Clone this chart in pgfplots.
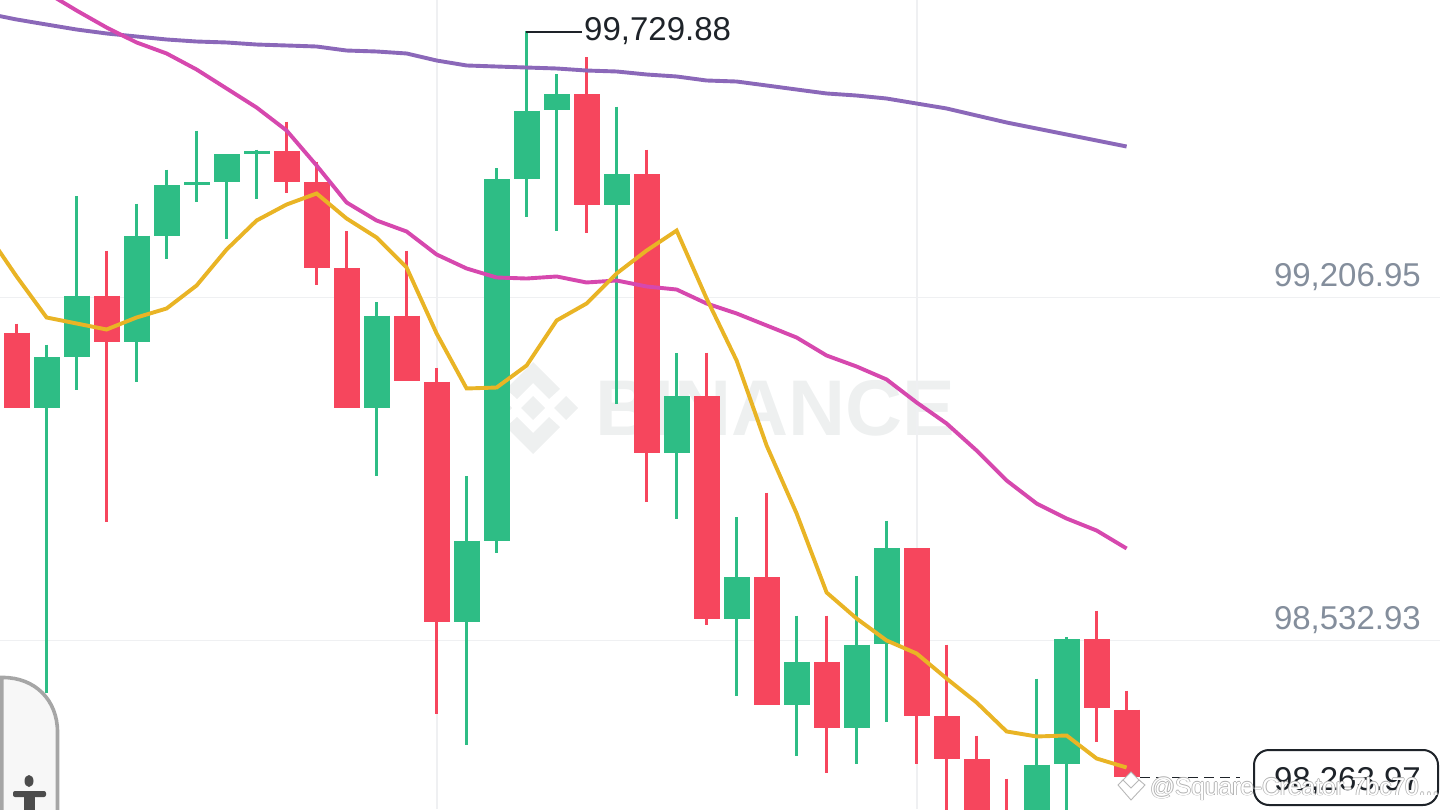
\documentclass[border=0pt]{standalone}
\usepackage{fontspec}
\setmainfont{Liberation Sans}
\usepackage{pgfplots}
\pgfplotsset{compat=1.18}
\definecolor{upg}{HTML}{2EBD85}
\definecolor{dnr}{HTML}{F6465D}
\definecolor{ma7}{HTML}{E9B425}
\definecolor{ma25}{HTML}{D648AE}
\definecolor{ma99}{HTML}{8B68B9}
\definecolor{gridc}{HTML}{EFF0F2}
\definecolor{lab}{HTML}{848E9C}
\definecolor{ink}{HTML}{1E2329}
\definecolor{wm}{HTML}{EEF0F0}
\begin{document}
\begin{tikzpicture}
\path[use as bounding box] (0,0) rectangle (1440pt,809pt);
\clip (0,0) rectangle (1440pt,809pt);
% exchange watermark behind the chart
\begin{scope}[x=1pt,y=-1pt,yshift=809pt]
\fill[wm] (533,362) -- (560,389) -- (549,399) -- (533,383) -- (517,399) -- (506,389) -- cycle;
\fill[wm] (533,454) -- (560,427) -- (549,417) -- (533,433) -- (517,417) -- (506,427) -- cycle;
\fill[wm] (533,396) -- (545,408) -- (533,420) -- (521,408) -- cycle;
\fill[wm] (566,396) -- (578,408) -- (566,420) -- (554,408) -- cycle;
\fill[wm] (500,396) -- (512,408) -- (500,420) -- (488,408) -- cycle;
\node[anchor=center,text=wm,inner sep=0pt] at (775,408)
  {\fontsize{79}{82}\selectfont\bfseries BINANCE};
\end{scope}
\begin{axis}[
  at={(0,0)},anchor=south west,
  scale only axis,width=1440pt,height=809pt,
  xmin=-0.6,xmax=1439.4,ymin=98201.9,ymax=99791.6,
  axis line style={draw=none},
  tick style={draw=none},
  xtick={436.1,916.1},ytick={99206.95,98532.93},
  xticklabels={},yticklabels={},
  grid=major,grid style={gridc,line width=1.6pt},
  unbounded coords=jump,
]
% green wicks
\addplot[upg,line width=3.5pt,forget plot] coordinates {
(46,99114.6)(46,98430.8)(46,nan)(76,99405.5)(76,99026.2)(76,nan)
(136,99391.7)(136,99040.0)(136,nan)(166,99458.5)(166,99283.6)(166,nan)
(196,99535.1)(196,99393.7)(196,nan)(226,99488.0)(226,99322.9)(226,nan)
(256,99497.8)(256,99399.6)(256,nan)(376,99197.2)(376,98855.3)(376,nan)
(466,98855.3)(466,98326.7)(466,nan)(496,99460.5)(496,98705.9)(496,nan)
(526,99729.88)(526,99364.2)(526,nan)(556,99645.2)(556,99338.6)(556,nan)
(616,99582.3)(616,98998.7)(616,nan)(676,99097.0)(676,98772.7)(676,nan)
(736,98774.7)(736,98424.9)(736,nan)(796,98582.1)(796,98305.1)(796,nan)
(856,98658.8)(856,98291.3)(856,nan)(886,98768.8)(886,98371.9)(886,nan)
(1036,98458.3)(1036,98081.0)(1036,nan)(1066,98538.9)(1066,98140.0)
};
% green bodies
\addplot[upg,line width=26pt,forget plot] coordinates {
(46,99089.1)(46,98990.8)(46,nan)(76,99210.9)(76,99089.1)(76,nan)
(136,99328.8)(136,99118.6)(136,nan)(166,99427.1)(166,99328.8)(166,nan)
(196,99433.0)(196,99427.1)(196,nan)(226,99488.0)(226,99433.0)(226,nan)
(256,99495.8)(256,99488.0)(256,nan)(376,99171.6)(376,98988.9)(376,nan)
(466,98729.5)(466,98570.3)(466,nan)(496,99438.9)(496,98729.5)(496,nan)
(526,99574.4)(526,99438.9)(526,nan)(556,99605.9)(556,99576.4)(556,nan)
(616,99448.7)(616,99387.8)(616,nan)(676,99012.5)(676,98900.5)(676,nan)
(736,98656.8)(736,98574.3)(736,nan)(796,98491.7)(796,98405.3)(796,nan)
(856,98525.1)(856,98362.0)(856,nan)(886,98713.8)(886,98527.1)(886,nan)
(1036,98289.3)(1036,98120.3)(1036,nan)(1066,98535.0)(1066,98291.3)
};
% red wicks
\addplot[dnr,line width=3.5pt,forget plot] coordinates {
(16,99155.9)(16,98990.8)(16,nan)(106,99299.3)(106,98766.8)(106,nan)
(286,99552.8)(286,99411.4)(286,nan)(316,99474.2)(316,99230.6)(316,nan)
(346,99336.7)(346,98988.9)(346,nan)(406,99299.3)(406,99043.9)(406,nan)
(436,99069.4)(436,98387.6)(436,nan)(586,99678.6)(586,99332.8)(586,nan)
(646,99497.8)(646,98806.1)(646,nan)(706,99098.9)(706,98562.5)(706,nan)
(766,98823.8)(766,98405.3)(766,nan)(826,98582.1)(826,98271.7)(826,nan)
(916,98713.8)(916,98291.3)(916,nan)(946,98525.1)(946,98159.6)(946,nan)
(976,98346.3)(976,98100.7)(976,nan)(1006,98261.8)(1006,98061.4)(1006,nan)
(1096,98591.9)(1096,98332.6)(1096,nan)(1126,98434.7)(1126,98263.97)
};
% red bodies
\addplot[dnr,line width=26pt,forget plot] coordinates {
(16,99138.2)(16,98990.8)(16,nan)(106,99210.9)(106,99118.6)(106,nan)
(286,99493.9)(286,99434.9)(286,nan)(316,99434.9)(316,99265.9)(316,nan)
(346,99264.0)(346,98988.9)(346,nan)(406,99171.6)(406,99043.9)(406,nan)
(436,99041.9)(436,98570.3)(436,nan)(586,99605.9)(586,99387.8)(586,nan)
(646,99448.7)(646,98900.5)(646,nan)(706,99012.5)(706,98574.3)(706,nan)
(766,98656.8)(766,98405.3)(766,nan)(826,98491.7)(826,98362.0)(826,nan)
(916,98713.8)(916,98383.7)(916,nan)(946,98383.7)(946,98299.2)(946,nan)
(976,98299.2)(976,98140.0)(976,nan)(1006,98159.6)(1006,98081.0)(1006,nan)
(1096,98535.0)(1096,98399.4)(1096,nan)(1126,98397.4)(1126,98263.97)
};
% MA(99)
\addplot[ma99,line width=3.9pt,forget plot] coordinates {
(-14,99765.1)(16,99753.3)(46,99743.4)(76,99733.6)(106,99725.8)(136,99719.9)
(166,99714.0)(196,99710.0)(226,99708.1)(256,99704.1)(286,99702.2)(316,99700.2)
(346,99692.3)(376,99690.4)(406,99686.5)(436,99672.7)(466,99662.9)(496,99660.9)
(526,99658.9)(556,99657.0)(586,99653.0)(616,99651.1)(646,99645.2)(676,99641.3)
(706,99633.4)(736,99631.4)(766,99623.6)(796,99615.7)(826,99607.9)(856,99603.9)
(886,99598.0)(916,99588.2)(946,99578.4)(976,99564.6)(1006,99550.9)(1036,99539.1)
(1066,99527.3)(1096,99515.5)(1126,99503.7)
};
% MA(25)
\addplot[ma25,line width=3.9pt,forget plot] coordinates {
(46,99806.3)(76,99770.9)(106,99737.5)(136,99708.1)(166,99686.5)(196,99655.0)
(226,99617.7)(256,99580.3)(286,99535.1)(316,99466.4)(346,99393.7)(376,99358.3)
(406,99336.7)(436,99291.5)(466,99264.0)(496,99246.3)(526,99244.3)(556,99248.3)
(586,99236.5)(616,99240.4)(646,99228.6)(676,99222.7)(706,99195.2)(736,99175.6)
(766,99152.0)(796,99128.4)(826,99093.0)(856,99071.4)(886,99045.9)(916,99000.7)
(946,98959.4)(976,98906.3)(1006,98847.4)(1036,98802.2)(1066,98772.7)(1096,98749.1)
(1126,98713.8)
};
% MA(7)
\addplot[ma7,line width=3.9pt,forget plot] coordinates {
(-14,99334.7)(16,99248.3)(46,99167.7)(76,99155.9)(106,99144.1)(136,99167.7)
(166,99185.4)(196,99230.6)(226,99301.3)(256,99358.3)(286,99389.7)(316,99411.4)
(346,99362.2)(376,99324.9)(406,99265.9)(436,99136.3)(466,99028.2)(496,99030.1)
(526,99073.4)(556,99161.8)(586,99195.2)(616,99254.2)(646,99299.3)(676,99338.6)
(706,99205.0)(736,99083.2)(766,98916.2)(796,98782.6)(826,98627.3)(856,98576.2)
(886,98533.0)(916,98507.5)(946,98458.3)(976,98411.2)(1006,98354.2)(1036,98344.4)
(1066,98346.3)(1096,98301.1)(1126,98283.4)
};
\end{axis}
\begin{scope}[x=1pt,y=-1pt,yshift=809pt]
% price annotations
\draw[ink,line width=1.6pt] (526,32) -- (582,32);
\node[anchor=base west,inner sep=0pt,text=ink] at (584,41) {\fontsize{33}{36}\selectfont 99,729.88};
\node[anchor=base east,inner sep=0pt,text=lab] at (1421,287) {\fontsize{33}{36}\selectfont 99,206.95};
\node[anchor=base east,inner sep=0pt,text=lab] at (1421,630) {\fontsize{33}{36}\selectfont 98,532.93};
\draw[ink,line width=1.6pt,dash pattern=on 10pt off 6pt] (1140,777.5) -- (1240,777.5);
\draw[ink,line width=2pt,rounded corners=15pt,fill=white] (1254,750) rectangle (1438,805);
\node[anchor=base east,inner sep=0pt,text=ink] at (1421,790) {\fontsize{33}{36}\selectfont 98,263.97};
% accessibility tab
\draw[fill=black!3,draw=black!35,line width=3.6pt] (1.7,830) -- (1.7,677.5) -- (3,677.5)
  .. controls (35,677.5) and (57.5,700) .. (57.5,732) -- (57.5,830);
\fill[black!70] (29,781) ellipse (4.5 and 6);
\fill[black!70,rounded corners=2pt] (13,791) rectangle (46,797);
\fill[black!70] (24,795) rectangle (35,812);
% source stamp
\foreach \dx/\dy in {-0.8/0,0.8/0,0/-0.8,0/0.8}{
\node[anchor=base west,inner sep=0pt,text=black!30] at ({1150+\dx},{795+\dy}) {\fontsize{24.5}{28}\selectfont @Square-Creator-7bc70...};}
\node[anchor=base west,inner sep=0pt,text=white] at (1150,795) {\fontsize{24.5}{28}\selectfont @Square-Creator-7bc70...};
\begin{scope}[draw=black!28,fill=white,line width=0.9pt]
\filldraw (1131,772) -- (1140,781) -- (1131,790) -- (1122,781) -- cycle;
\filldraw (1118,785) -- (1123,780) -- (1131,788) -- (1139,780) -- (1145,785) -- (1131,800) -- cycle;
\end{scope}
\end{scope}
\end{tikzpicture}
\end{document}
